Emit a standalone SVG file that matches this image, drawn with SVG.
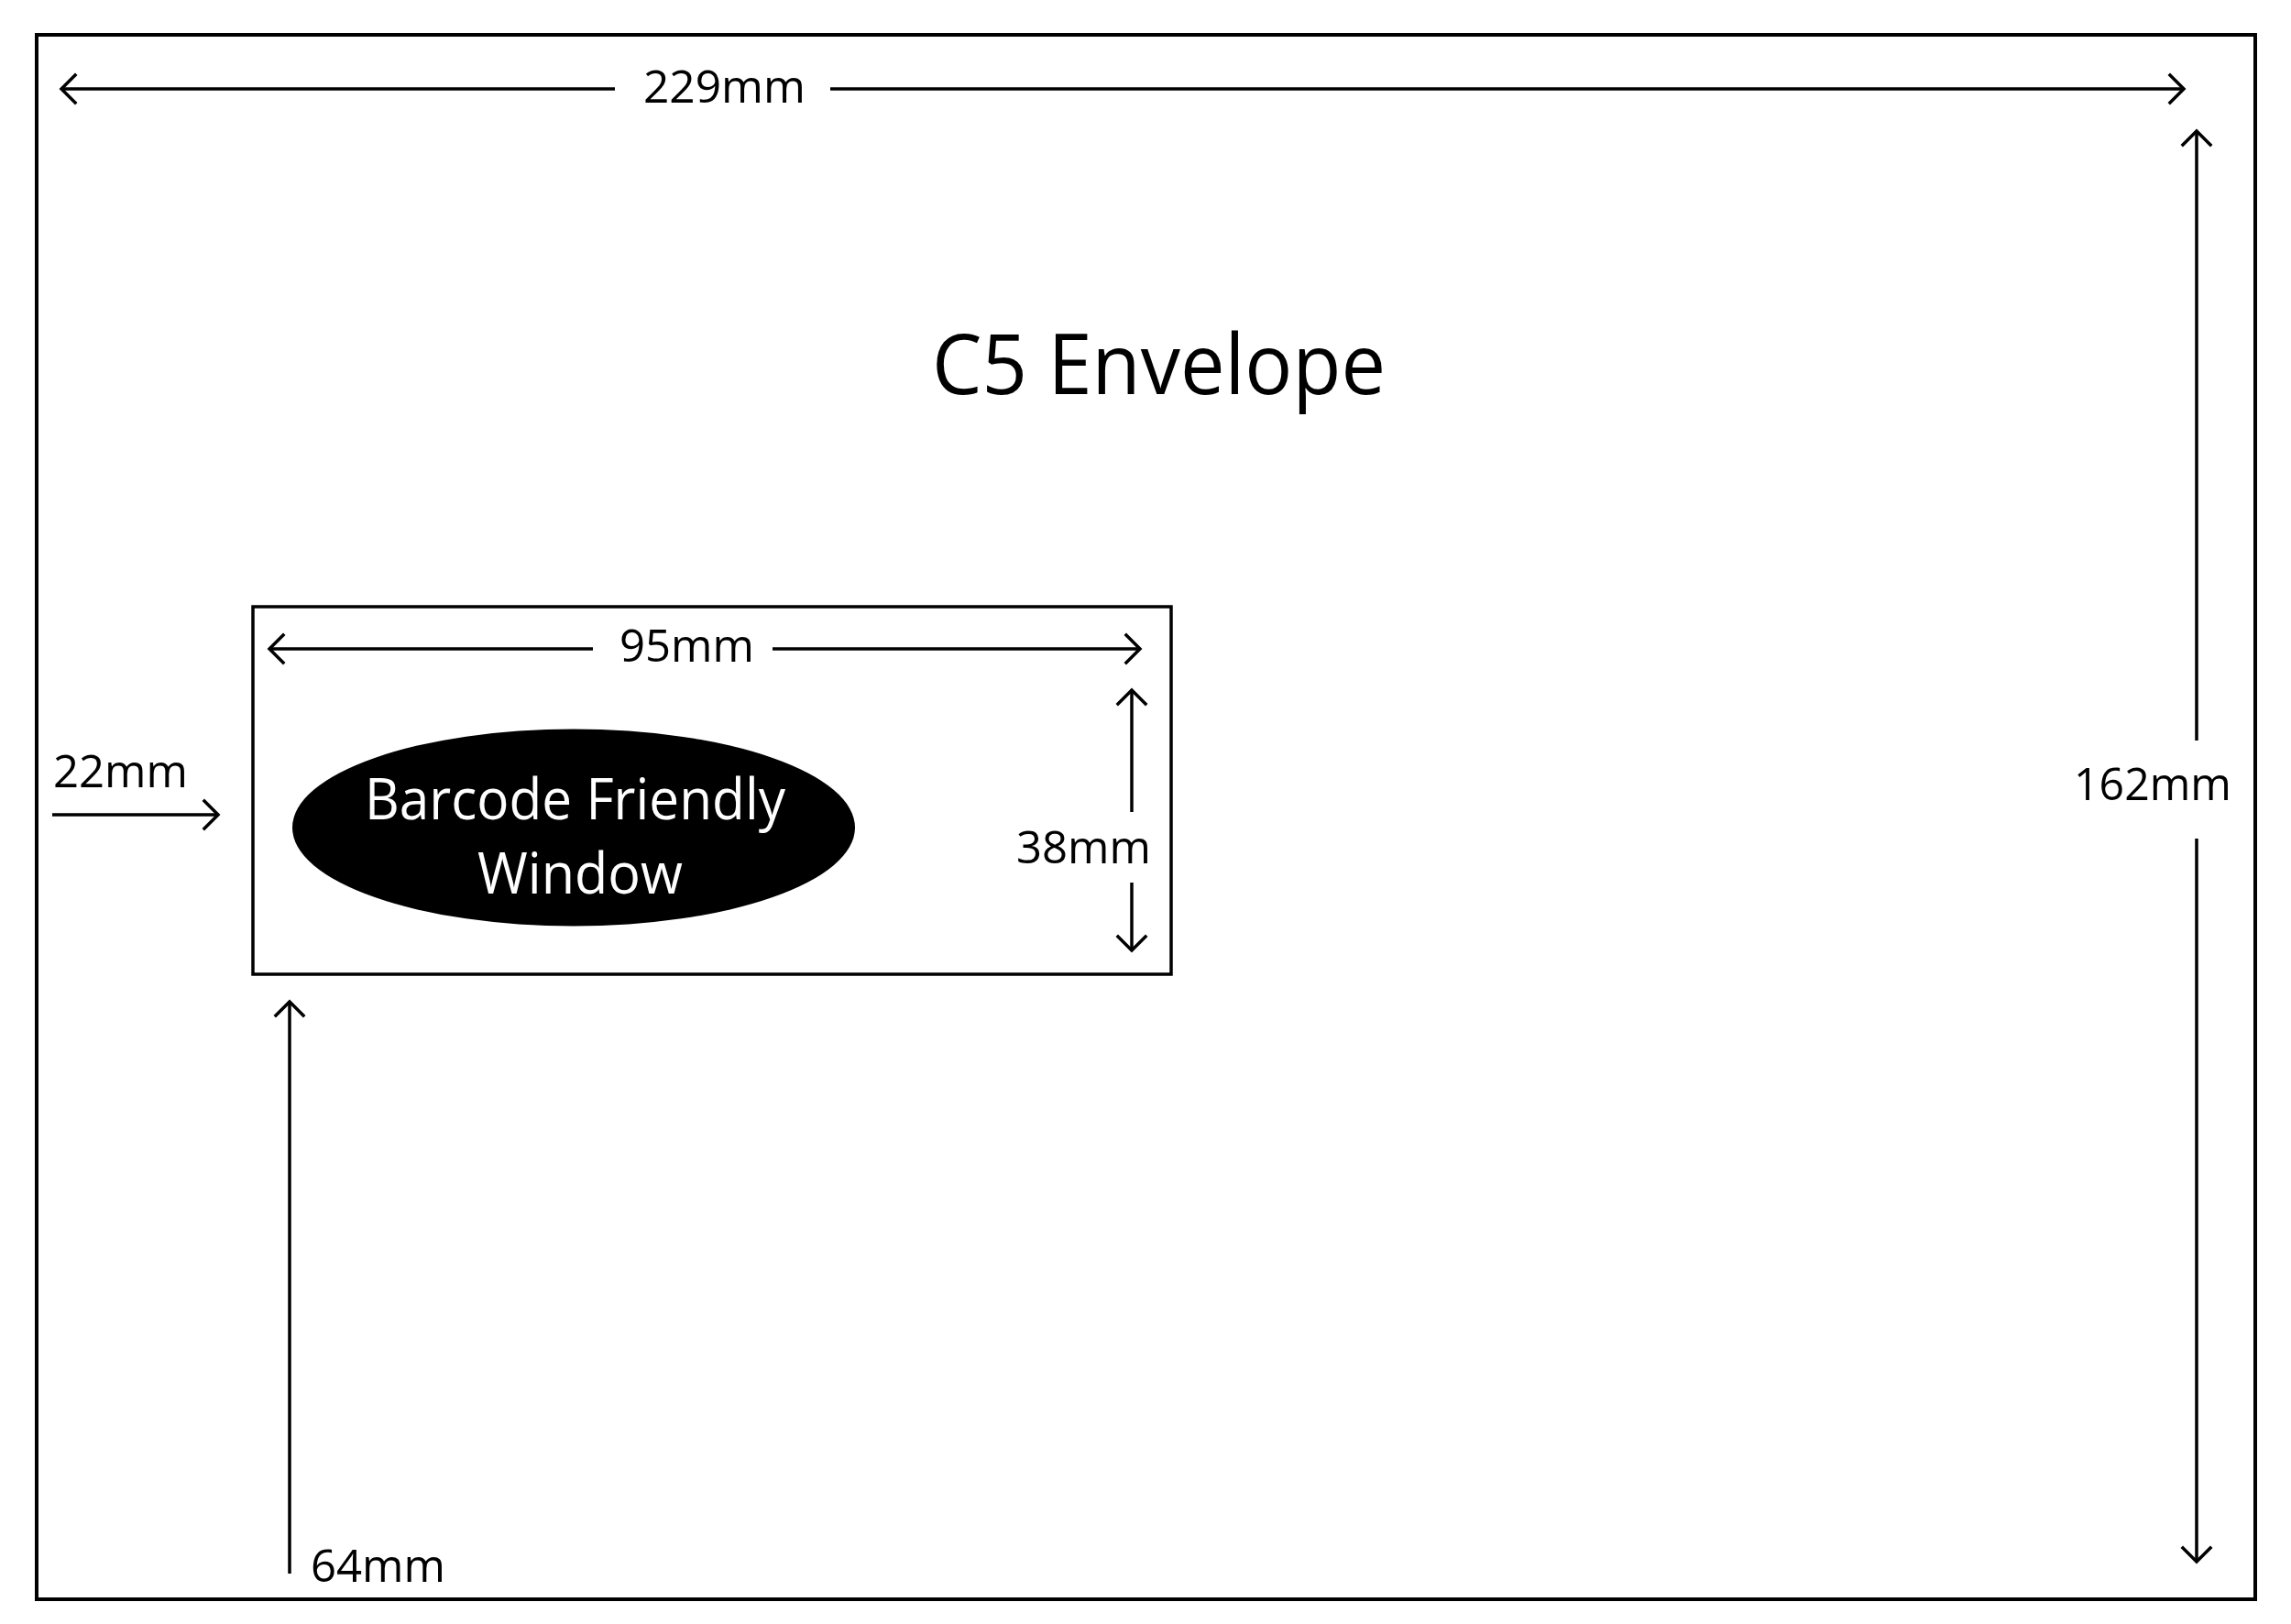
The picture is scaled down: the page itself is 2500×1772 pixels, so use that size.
<svg xmlns="http://www.w3.org/2000/svg" width="2500" height="1772" viewBox="0 0 2500 1772">
  <defs>
    <marker id="chev" markerUnits="userSpaceOnUse" markerWidth="40" markerHeight="40" refX="0" refY="0" viewBox="-20 -20 40 40" orient="auto" overflow="visible">
      <path d="M-15,-15 L0,0 L-15,15" fill="none" stroke="#000" stroke-width="3.5" stroke-linecap="square"/>
    </marker>
  </defs>
  <style>
    .frame { fill: #fff; stroke: #000; stroke-width: 4; }
    .win { fill: #fff; stroke: #000; stroke-width: 3.5; }
    .dim { stroke: #000; stroke-width: 3.5; fill: none; marker-end: url(#chev); }
    .lbl { font-family: "Open Sans", "Liberation Sans", sans-serif; font-size: 50px; fill: #000; }
    .title { font-family: "Open Sans", "Liberation Sans", sans-serif; font-size: 91px; fill: #000; }
    .wtxt { font-family: "Open Sans", "Liberation Sans", sans-serif; font-size: 63px; fill: #fff; }
  </style>
  <rect width="2500" height="1772" fill="#fff"/>
  <g id="envelope">
    <rect class="frame" x="40" y="38" width="2421" height="1707"/>
    <text class="title" x="1017" y="430" textLength="495" lengthAdjust="spacingAndGlyphs">C5 Envelope</text>
  </g>
  <g id="window">
    <rect class="win" x="276" y="662" width="1002" height="401"/>
  </g>
  <g id="barcode-window">
    <ellipse cx="626" cy="903" rx="307" ry="107.5" fill="#000"/>
    <text class="wtxt" x="398" y="894" textLength="459" lengthAdjust="spacingAndGlyphs">Barcode Friendly</text>
    <text class="wtxt" x="521" y="975" textLength="224" lengthAdjust="spacingAndGlyphs">Window</text>
  </g>
  <g id="connectors">
    <line class="dim" x1="671" y1="97" x2="67" y2="97"/>
    <line class="dim" x1="906" y1="97" x2="2383" y2="97"/>
    <line class="dim" x1="2397" y1="808" x2="2397" y2="143"/>
    <line class="dim" x1="2397" y1="915" x2="2397" y2="1704"/>
    <line class="dim" x1="647" y1="708" x2="294" y2="708"/>
    <line class="dim" x1="843" y1="708" x2="1244" y2="708"/>
    <line class="dim" x1="1235" y1="886" x2="1235" y2="753"/>
    <line class="dim" x1="1235" y1="963" x2="1235" y2="1037"/>
    <line class="dim" x1="57" y1="889" x2="238" y2="889"/>
    <line class="dim" x1="316" y1="1717" x2="316" y2="1093"/>
  </g>
  <g id="labels">
    <text class="lbl" x="702" y="112" textLength="177" lengthAdjust="spacingAndGlyphs">229mm</text>
    <text class="lbl" x="2263" y="873" textLength="172" lengthAdjust="spacingAndGlyphs">162mm</text>
    <text class="lbl" x="676" y="722" textLength="147" lengthAdjust="spacingAndGlyphs">95mm</text>
    <text class="lbl" x="1109" y="942" textLength="147" lengthAdjust="spacingAndGlyphs">38mm</text>
    <text class="lbl" x="58" y="859" textLength="147" lengthAdjust="spacingAndGlyphs">22mm</text>
    <text class="lbl" x="339" y="1726" textLength="147" lengthAdjust="spacingAndGlyphs">64mm</text>
  </g>
</svg>
